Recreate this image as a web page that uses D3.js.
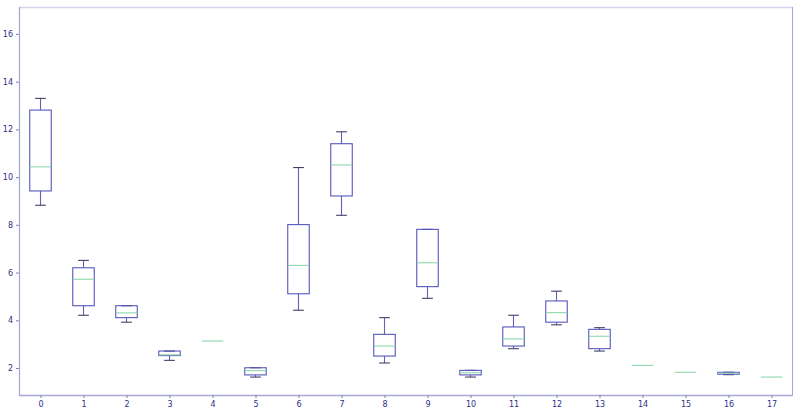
<!DOCTYPE html>
<html><head><meta charset="utf-8">
<script src="https://cdn.jsdelivr.net/npm/d3@7"></script>
<style>body{margin:0;background:#fff;}svg{display:block;}</style>
</head><body>
<svg id="chart" width="800" height="412"></svg>
<script>
const categories = ["0","1","2","3","4","5","6","7","8","9","10","11","12","13","14","15","16","17"];
const whiskerLow  = [8.82,4.21,3.92,2.32,3.13,1.62,4.42,8.40,2.21,4.92,1.62,2.81,3.81,2.71,2.11,1.82,1.72,1.62];
const q1Values    = [9.42,4.61,4.11,2.52,3.13,1.71,5.11,9.21,2.50,5.41,1.71,2.92,3.92,2.81,2.11,1.82,1.74,1.62];
const medianValues= [10.43,5.72,4.31,2.55,3.13,1.89,6.30,10.51,2.92,6.41,1.80,3.22,4.32,3.33,2.11,1.82,1.78,1.62];
const q3Values    = [12.81,6.20,4.61,2.71,3.13,2.01,8.01,11.40,3.41,7.81,1.90,3.72,4.81,3.62,2.11,1.82,1.82,1.62];
const whiskerHigh = [13.30,6.51,4.61,2.71,3.13,2.01,10.40,11.90,4.11,7.81,1.90,4.21,5.22,3.69,2.11,1.82,1.82,1.62];
const yTicks = [2,4,6,8,10,12,14,16];

const mLeft=19, mRight=793, mTop=7, mBottom=395;
const svg = d3.select("#chart");
const x = d3.scaleLinear().domain([-0.5, 17.5]).range([mLeft, mRight]);
const y = d3.scaleLinear().domain([0.868, 17.13]).range([mBottom, mTop]);

const data = categories.map((c,i)=>({c, i, lo:whiskerLow[i], q1:q1Values[i], med:medianValues[i], q3:q3Values[i], hi:whiskerHigh[i]}));

// frame
svg.append("line").attr("x1",mLeft).attr("x2",mRight).attr("y1",mTop+0.5).attr("y2",mTop+0.5).attr("stroke","#d4d4f0").attr("stroke-width",1.5);
svg.append("line").attr("x1",mRight-0.5).attr("x2",mRight-0.5).attr("y1",mTop).attr("y2",mBottom).attr("stroke","#a8a8c8").attr("stroke-width",1);

// axes
const yAxis = d3.axisLeft(y).tickValues(yTicks).tickSize(3).tickPadding(3);
const gy = svg.append("g").attr("transform",`translate(${mLeft},0)`).call(yAxis);
const xAxis = d3.axisBottom(x).tickValues(data.map(d=>d.i)).tickFormat(i=>categories[i]).tickSize(3).tickPadding(3);
const gx = svg.append("g").attr("transform",`translate(0,${mBottom})`).call(xAxis);
[gx,gy].forEach(g=>{
  g.select(".domain").attr("stroke","#a8a8dc").attr("stroke-width",1.3);
  g.selectAll(".tick line").attr("stroke","#8080b0");
  g.selectAll(".tick text").attr("fill","#2e2e88").attr("font-family","DejaVu Sans").attr("font-size","8px");
});
gx.select(".domain").attr("d",`M${mLeft},0.5H${mRight}`);
gy.select(".domain").attr("d",`M0.5,${mTop}V${mBottom}`);

const bw = 0.5, cw = 0.25;
const g = svg.append("g");
data.forEach(d=>{
  const cx = x(d.i);
  const half = (x(bw)-x(0))/2, capHalf=(x(cw)-x(0))/2;
  const degenerate = d.hi === d.lo;
  if (!degenerate) {
    g.append("line").attr("x1",cx).attr("x2",cx).attr("y1",y(d.q3)).attr("y2",y(d.hi)).attr("stroke","#6262b4").attr("stroke-width",1.1);
    g.append("line").attr("x1",cx).attr("x2",cx).attr("y1",y(d.q1)).attr("y2",y(d.lo)).attr("stroke","#6262b4").attr("stroke-width",1.1);
    g.append("line").attr("x1",cx-capHalf).attr("x2",cx+capHalf).attr("y1",y(d.hi)).attr("y2",y(d.hi)).attr("stroke","#404068").attr("stroke-width",1.1);
    g.append("line").attr("x1",cx-capHalf).attr("x2",cx+capHalf).attr("y1",y(d.lo)).attr("y2",y(d.lo)).attr("stroke","#404068").attr("stroke-width",1.1);
    g.append("rect").attr("x",cx-half).attr("y",y(d.q3)).attr("width",2*half).attr("height",Math.max(0,y(d.q1)-y(d.q3)))
      .attr("fill","none").attr("stroke","#5656bc").attr("stroke-width",1.1);
  }
  g.append("line").attr("x1",cx-half).attr("x2",cx+half).attr("y1",y(d.med)).attr("y2",y(d.med)).attr("stroke","#8cd8ac").attr("stroke-width",1.1);
});
</script>
</body></html>
